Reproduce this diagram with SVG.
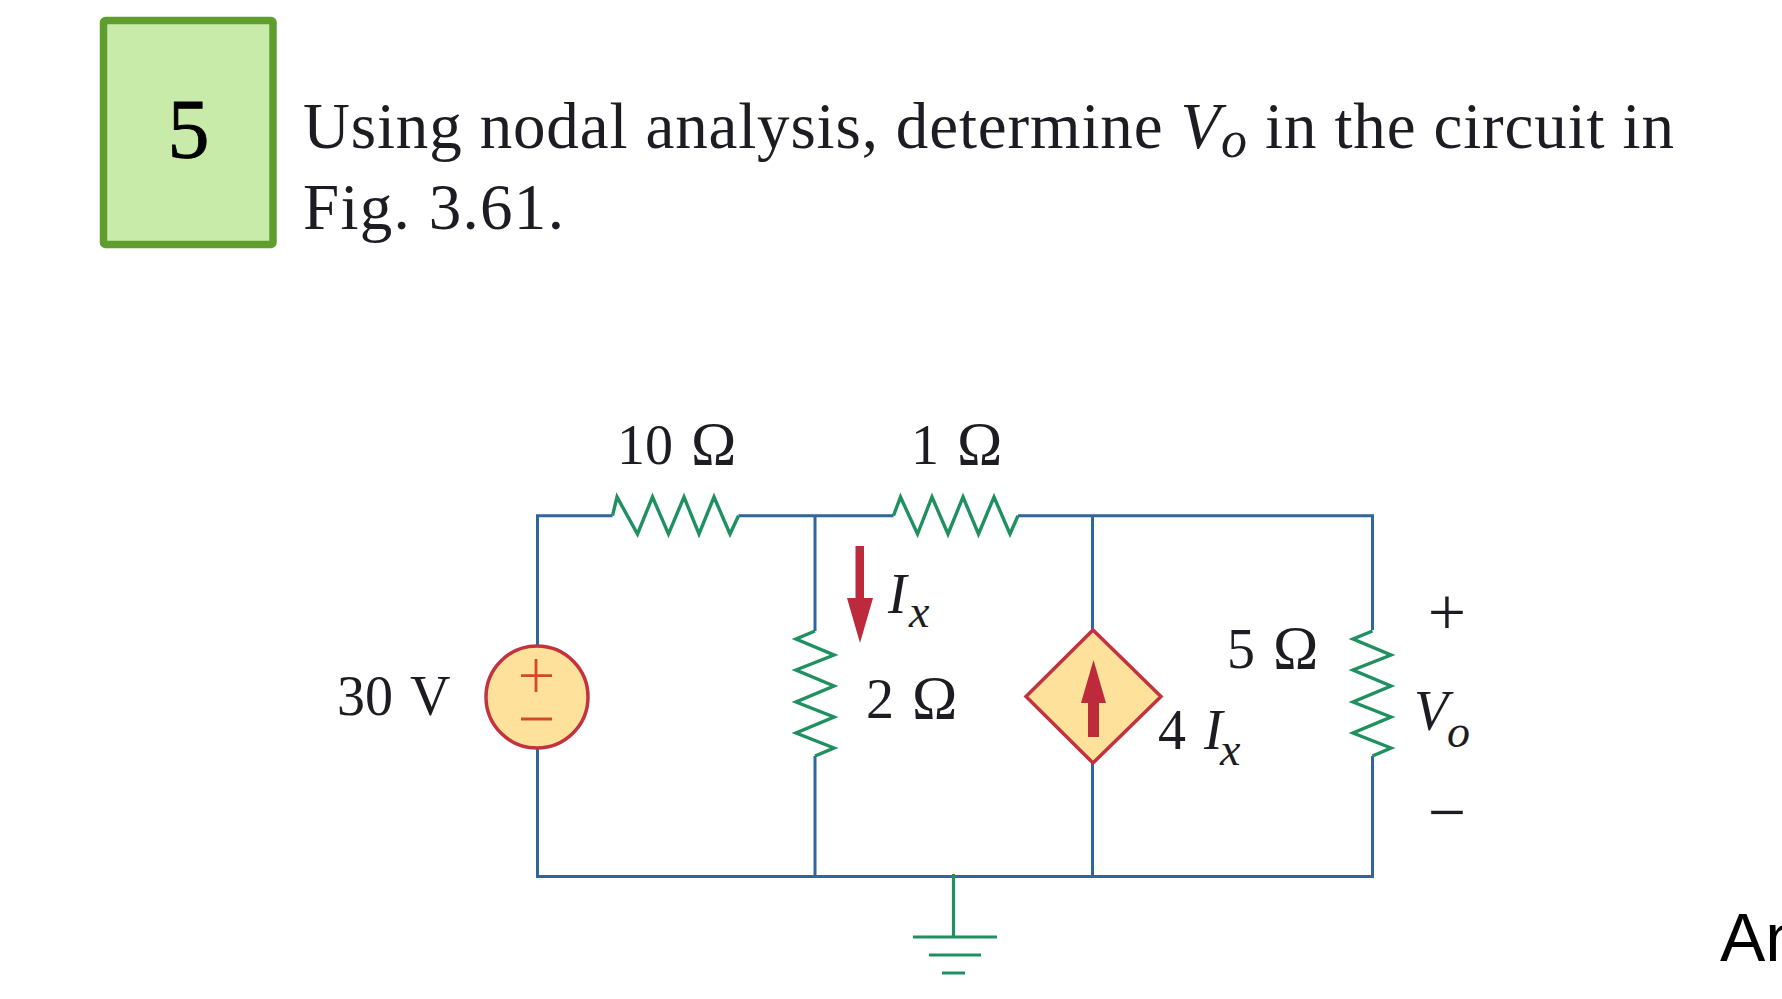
<svg xmlns="http://www.w3.org/2000/svg" width="1782" height="999" viewBox="0 0 1782 999">
<style>
text{font-family:"Liberation Serif","Times New Roman",serif;fill:#1c1c22}
.l{font-size:56px;word-spacing:4px}
.o{font-size:61px}
.q{font-size:65px}
.i{font-style:italic}
.s{font-style:italic;font-size:46px}
.w{fill:none;stroke:#2f669f;stroke-width:3}
.r{fill:none;stroke:#1f9060;stroke-width:3.4}
.g{fill:none;stroke:#1f9060;stroke-width:3.2}
.src{fill:#fee29b;stroke:#c3323f;stroke-width:3.5}
.red{fill:#bc2a3c}
.p{fill:none;stroke:#cf4a2c;stroke-width:2.8}
</style>
<rect width="1782" height="999" fill="#fff"/>
<g id="badge">
<rect x="103.500" y="20.500" width="169.500" height="224" rx="2" fill="#c9ebaa" stroke="#5f9e2e" stroke-width="7.500"/>
<text x="188.500" y="158" font-size="84" text-anchor="middle" style="fill:#000;stroke:#000;stroke-width:.8">5</text>
</g>
<g id="question">
<text class="q" x="303" y="148" textLength="1371" lengthAdjust="spacing">Using nodal analysis, determine <tspan class="i">V</tspan><tspan class="i" font-size="52" dy="9">o</tspan><tspan dy="-9"> in the circuit in</tspan></text>
<text class="q" x="303" y="229" letter-spacing="1.300">Fig. 3.61.</text>
</g>
<g id="connectors">
<path class="w" d="M612.500 515.700H537.500V646M537.500 748V876.500H1372.500V756M738.500 515.700H893.500M1018 515.700H1372.500V630M815 515.700V631M815 756V876.500M1092.500 515.700V630M1092.500 763V876.500"/>
</g>
<g id="r10">
<path class="r" d="M612.500 515.700L617 497L637.500 534L652.500 497L668.500 534L684 497L699 534L714 497L730 534L738.500 515.700"/>
<text class="l" x="617" y="464">10 <tspan class="o">Ω</tspan></text>
</g>
<g id="r1">
<path class="r" d="M893.500 515.700L900.500 497L917.500 534L932 497L948 534L963 497L978.500 534L994 497L1010 534L1018 515.700"/>
<text class="l" x="911" y="464">1 <tspan class="o">Ω</tspan></text>
</g>
<g id="r2">
<path class="r" d="M815 631L796 639L834 655L796 670L834 686L796 702L834 717L796 733L834 748L815 756"/>
<text class="l" x="866" y="718">2 <tspan class="o">Ω</tspan></text>
</g>
<g id="r5">
<path class="r" d="M1372.500 631L1353 639L1391 655L1353 670L1391 686L1353 702L1391 717L1353 733L1391 748L1372.500 756"/>
<text class="l" x="1227" y="668">5 <tspan class="o">Ω</tspan></text>
</g>
<g id="vsource">
<circle class="src" cx="537" cy="697" r="51"/>
<path class="p" d="M521 675.700H552M536 659V692M521 719H552"/>
<text class="l" x="337" y="715">30 V</text>
</g>
<g id="dep-source">
<path class="src" d="M1093 630L1161 696.500L1093 763L1026 696.500Z"/>
<path class="red" d="M1093.500 660L1106 703H1099V737H1088V703H1081Z"/>
<text class="l" x="1158" y="749">4 <tspan class="i">I</tspan></text>
<text class="s" x="1220" y="765">x</text>
</g>
<g id="ix">
<path class="red" d="M855.500 546H864V598H873L860 643L847 598H855.500Z"/>
<text class="l i" x="888" y="613">I</text>
<text class="s" x="909" y="627">x</text>
</g>
<g id="vo">
<text x="1447" y="635" font-size="68" text-anchor="middle">+</text>
<text class="l i" x="1414" y="730" font-size="60">V</text>
<text class="s" x="1447" y="747">o</text>
<text x="1447" y="835" font-size="68" text-anchor="middle">−</text>
</g>
<g id="ground">
<path class="g" d="M953.500 874V937M913 937H997M929 955H981M942 973H965"/>
</g>
<g id="answer">
<text x="1720" y="961" font-size="68" style="font-family:'Liberation Sans',Arial,sans-serif;fill:#000">An</text>
</g>
</svg>
